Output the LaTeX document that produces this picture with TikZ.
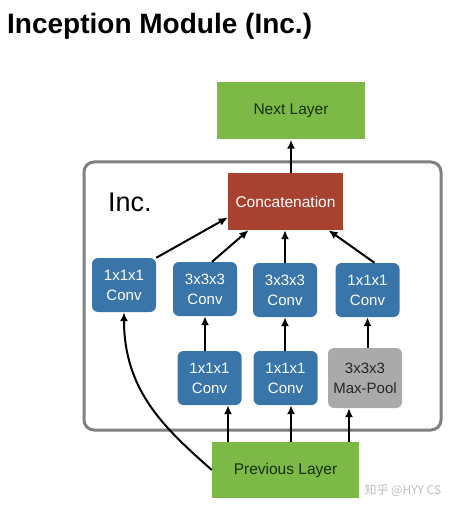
\documentclass[tikz,border=0pt]{standalone}
\usepackage{fontspec}
\setmainfont{Liberation Sans}
\newfontfamily\zhfont{Noto Sans CJK SC}
\usepackage{tikz}
\usetikzlibrary{arrows.meta}
\usepackage{xcolor}
\definecolor{layergreen}{RGB}{124,185,71}
\definecolor{layertext}{RGB}{22,48,12}
\definecolor{convblue}{RGB}{58,117,170}
\definecolor{catred}{RGB}{166,66,47}
\definecolor{poolgrey}{RGB}{170,170,170}
\definecolor{framegrey}{RGB}{128,128,128}
\definecolor{markgrey}{RGB}{190,190,190}
\tikzset{%
    layer/.style={%
        draw=none, fill=layergreen, text=layertext,
        minimum width=148pt, minimum height=57pt,
        font=\fontsize{15.5}{19}\selectfont
    },
    catbox/.style={%
        draw=none, fill=catred, text=white,
        minimum width=115pt, minimum height=57pt,
        font=\fontsize{15.5}{19}\selectfont
    },
    convbox/.style={%
        draw=none, fill=convblue, text=white, rounded corners=6pt,
        minimum width=64pt, minimum height=54pt, align=center,
        font=\fontsize{15}{20}\selectfont
    },
    poolbox/.style={%
        convbox, fill=poolgrey, text=black!85,
        minimum width=74pt, minimum height=60pt
    },
    arr/.style={%
        line width=2pt, -{Latex[length=9pt,width=8pt]}
    }
}
\begin{document}
\begin{tikzpicture}[x=1pt,y=-1pt]
    \useasboundingbox (0,0) rectangle (460,510);
    \node[anchor=base west, inner xsep=0pt, font=\bfseries\fontsize{28}{32}\selectfont] (title) at (7,34) {Inception Module (Inc.)};
    \node[draw=framegrey, line width=3pt, rounded corners=10pt,
          minimum width=357pt, minimum height=268pt] (inc) at (262.5,296) {};
    \node[anchor=base west, inner xsep=0pt, font=\fontsize{27}{32}\selectfont] (inclabel) at (108,212) {Inc.};
    % layers and branches
    \node[layer] (next) at (291,111) {Next Layer};
    \node[catbox] (concat) at (285.5,201.5) {Concatenation};
    \node[convbox] (c1) at (124,285) {1x1x1\\Conv};
    \node[convbox] (c2) at (205,289) {3x3x3\\Conv};
    \node[convbox] (c3) at (285,290) {3x3x3\\Conv};
    \node[convbox] (c4) at (367.5,290) {1x1x1\\Conv};
    \node[convbox] (r1) at (209.5,378) {1x1x1\\Conv};
    \node[convbox] (r2) at (285.5,378) {1x1x1\\Conv};
    \node[poolbox] (pool) at (365,378) {3x3x3\\Max-Pool};
    \node[layer, minimum width=147pt, minimum height=56pt] (prev) at (285.5,470) {Previous Layer};
    \node[anchor=west, text=markgrey, font=\zhfont\fontsize{12}{14}\selectfont] (mark) at (361,490) {知乎 @HYY CS};
    % connectors
    \draw[arr] (concat.north -| next.south) -- (next.south);
    \draw[arr] (c1.north east) -- ([yshift=-16pt]concat.west);
    \draw[arr] ([xshift=7pt]c2.north) -- ([xshift=-37pt]concat.south);
    \draw[arr] (c3.north) -- (c3.north |- concat.south);
    \draw[arr] ([xshift=7pt]c4.north) -- ([xshift=43pt]concat.south);
    \draw[arr] (r1.north -| c2.south) -- (c2.south);
    \draw[arr] (r2.north -| c3.south) -- (c3.south);
    \draw[arr] (pool.north -| c4.south) -- (c4.south);
    \draw[arr] ([xshift=-57.5pt]prev.north) -- ([xshift=-57.5pt]prev.north |- r1.south);
    \draw[arr] ([xshift=5.5pt]prev.north) -- ([xshift=5.5pt]prev.north |- r2.south);
    \draw[arr] ([xshift=63.5pt]prev.north) -- ([xshift=63.5pt]prev.north |- pool.south);
    \draw[arr] (prev.west) .. controls +(-45,-40) and +(0,80) .. (c1.south);
\end{tikzpicture}
\end{document}
